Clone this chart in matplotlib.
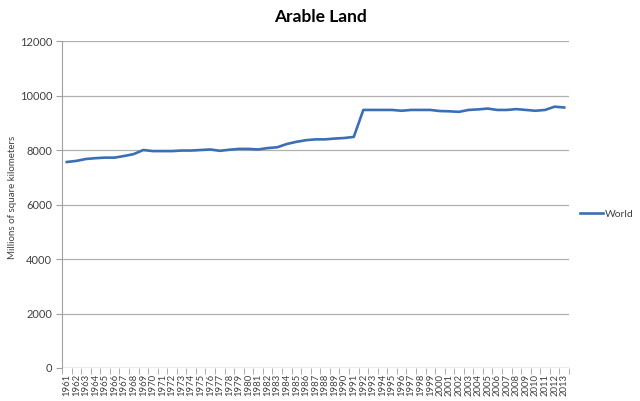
import matplotlib
matplotlib.use("Agg")
import matplotlib.pyplot as plt
from matplotlib.ticker import MultipleLocator, FixedLocator

years = list(range(1961, 2014))
world = [7560, 7600, 7670, 7700, 7720, 7720, 7780, 7850, 8000, 7960,
         7960, 7960, 7980, 7980, 8000, 8020, 7970, 8010, 8040, 8040,
         8020, 8070, 8100, 8220, 8300, 8360, 8390, 8390, 8420, 8440,
         8480, 9470, 9470, 9470, 9470, 9440, 9470, 9470, 9470, 9430,
         9420, 9400, 9470, 9490, 9520, 9470, 9470, 9500, 9470, 9440,
         9470, 9590, 9560]

plt.rcParams['font.family'] = ['Lato', 'DejaVu Sans']
fig = plt.figure(figsize=(6.4, 4.01), dpi=100)
ax = fig.add_axes([62/640, 33/401, (569-62)/640, (368-41)/401])

x = list(range(len(years)))
line, = ax.plot(x, world, color='#3a6fb5', linewidth=1.9, solid_joinstyle='round', label='World')

ax.set_xlim(-0.5, len(years) - 0.5)
ax.set_ylim(0, 12000)
ax.yaxis.set_major_locator(MultipleLocator(2000))
ax.grid(axis='y', color='#b0b0b0', linewidth=0.9)
ax.set_axisbelow(True)
for s in ['top', 'right', 'bottom']:
    ax.spines[s].set_visible(False)
ax.spines['left'].set_color('#a0a0a0')
ax.axhline(0, color='#a0a0a0', linewidth=0.9, zorder=1)

ax.set_xticks(x)
ax.set_xticklabels([str(y) for y in years], rotation=90, fontsize=6.8, color='#404040')
ax.tick_params(axis='x', which='major', length=0, pad=4)
ax.xaxis.set_minor_locator(FixedLocator([i - 0.5 for i in range(len(years) + 1)]))
ax.tick_params(axis='x', which='minor', length=4, color='#a0a0a0')
ax.tick_params(axis='y', length=4, color='#a0a0a0', labelsize=8, labelcolor='#404040', pad=3)

ax.set_ylabel('Millions of square kilometers', fontsize=7, color='#404040')
ax.yaxis.set_label_coords((17 - 62) / 507, (368 - 197) / 327)
fig.text(320/640, 1 - 17/401, 'Arable Land', ha='center', va='center', fontsize=12.5, fontweight='bold', color='#000000')

fig.legend(handles=[line], loc='center left', bbox_to_anchor=(580/640, 1 - 214/401), frameon=False,
           fontsize=7.5, handlelength=2.2, handletextpad=0.15, borderpad=0, borderaxespad=0,
           labelcolor='#404040')

fig.savefig('out.png', dpi=100)
